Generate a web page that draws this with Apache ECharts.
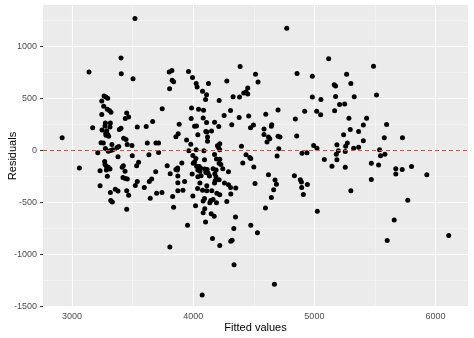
<!DOCTYPE html>
<html>
<head>
<meta charset="utf-8">
<script src="https://cdn.jsdelivr.net/npm/echarts@6/dist/echarts.min.js"></script>
<style>html,body{margin:0;padding:0;background:#fff}#c{width:474px;height:338px}</style>
</head>
<body>
<div id="c"></div>
<script>
const fitted = [3519,3140,3404,3406,3503,2918,3170,3264,3280,3294,3245,3261,3291,3308,3321,3245,3275,3272,3316,3313,3247,3286,3278,3294,3280,3302,3390,3404,3451,3439,3467,3426,3445,3455,3538,3494,3612,3665,3744,3621,3692,3714,3802,3824,3826,3838,3805,3884,3876,3857,3239,3258,3275,3299,3319,3335,3371,3385,3212,3379,3497,3634,3714,3060,3269,3272,3231,3283,3299,3313,3291,3423,3414,3437,3420,3439,3456,3231,3357,3379,3316,3319,3332,3451,3467,3451,3549,3533,3522,3596,3657,3637,3690,3645,3698,3742,3785,3810,3857,3869,3871,3873,3873,3873,3830,3838,3807,4772,4387,4514,4535,3961,3994,4024,4032,4126,4077,4110,4102,4277,4329,4382,4417,4436,4450,4450,4214,3986,4044,4085,3983,4082,4110,4011,4027,4038,4104,4112,4151,4118,4176,4211,4255,4308,4318,4379,4458,4473,4497,4599,4584,4584,4621,4632,4609,4645,4648,4700,4700,4716,4706,4692,4843,4857,4854,4920,4983,4983,5019,4994,5021,4898,4939,3945,3980,3964,4024,4088,3997,4022,4093,4200,4219,4209,4219,4176,4219,4398,4436,4467,4475,3906,3929,3915,3953,3991,4000,4011,4019,4036,4027,4049,4060,4038,4055,4038,4065,4055,4077,4082,4082,4093,4095,4102,4074,4095,4104,4115,4112,4123,4134,4137,4145,4148,4159,4164,4176,4181,4173,4192,4195,4219,4219,4214,4178,4187,4192,4214,4228,4244,4258,4277,4291,4308,4310,4310,4321,4335,4337,4349,4351,4409,4500,4510,4475,4530,4596,4621,4645,4664,4675,4687,4670,4835,4884,4893,4942,4895,4909,5024,5118,5488,5266,5164,5175,5301,5054,5175,5329,5513,5208,5250,5052,5167,5285,5431,5404,5596,5296,5241,5365,5404,5577,5727,5186,5258,5272,5324,5365,5198,5181,5255,5082,5186,5538,5546,5582,5145,5255,5301,5470,5470,5530,5672,5672,5725,5802,5928,5771,5659,5601,6109,3329,4118,4164,4189,4112,4153,3997,4291,3283,3538];
const residuals = [1270,757,890,738,692,123,220,524,515,502,476,427,398,385,369,347,265,236,265,226,197,191,165,155,146,136,201,214,362,308,323,119,107,58,226,49,230,279,401,71,71,71,757,770,677,663,595,252,162,133,75,71,19,-7,0,7,29,39,-22,-61,-51,-42,-19,-168,-107,-136,-194,-188,-162,-178,-249,-146,-162,-201,-259,-269,-275,-340,-372,-391,-405,-482,-495,-388,-430,-566,-113,-146,-337,-356,-275,-298,-204,-460,-411,-405,-146,-223,-184,-187,-168,-246,-311,-388,-444,-547,-929,1178,809,735,660,760,702,644,612,644,570,537,492,670,518,515,553,563,602,544,482,408,398,388,308,314,269,233,236,152,184,178,187,129,272,230,337,385,249,317,333,220,246,350,207,155,129,114,81,233,249,391,136,129,16,-52,304,741,139,379,716,515,379,49,22,-26,-22,100,61,-3,7,-3,-49,-78,-90,46,65,29,7,-39,-84,42,-42,-68,-78,-120,-298,-382,-719,-227,-123,-110,-531,-366,-152,-155,-168,-187,-201,-252,-243,-314,-382,-486,-599,-463,-560,-689,-1391,-178,-211,-184,-340,-220,-246,-502,-482,-609,-848,-473,-314,-291,-634,-502,-411,-427,-916,-282,-223,-252,-81,-123,-136,-175,-314,-492,-204,-356,-420,-874,-864,-751,-1100,-641,-362,-120,-158,-317,-719,-793,-553,-233,-453,-379,-285,-324,-1288,-243,-282,-304,-327,-356,-424,-586,884,812,735,634,621,644,492,521,518,534,444,447,343,382,311,311,246,250,201,152,182,94,123,123,55,42,71,22,32,-3,-36,-10,-87,-90,7,-51,-36,-152,-162,-388,-123,-279,-139,-175,-227,-184,-155,-233,-479,-670,-867,-819,58,90,-175,-188,-388,-388,-437,-330,-152,-298];
const xTicks = [3000, 4000, 5000, 6000];
const xMinor = [3500, 4500, 5500];
const yTicks = [-1500, -1000, -500, 0, 500, 1000];
const yMinor = [-1250, -750, -250, 250, 750, 1250];
const refLine = 0;

const pts = fitted.map((x, i) => [x, residuals[i]]);
const font = '"Liberation Sans", Arial, sans-serif';
const gridLines = [];
xMinor.forEach(v => gridLines.push({xAxis: v, lineStyle: {color: '#F7F7F7', width: 0.6, type: 'solid'}}));
yMinor.forEach(v => gridLines.push({yAxis: v, lineStyle: {color: '#F7F7F7', width: 0.6, type: 'solid'}}));
xTicks.forEach(v => gridLines.push({xAxis: v, lineStyle: {color: '#ffffff', width: 1.1, type: 'solid'}}));
yTicks.forEach(v => gridLines.push({yAxis: v, lineStyle: {color: '#ffffff', width: 1.1, type: 'solid'}}));

const chart = echarts.init(document.getElementById('c'), null, {renderer: 'canvas'});
chart.setOption({
  animation: false,
  backgroundColor: '#ffffff',
  grid: {left: 43, right: 6, top: 5, bottom: 31, show: true, backgroundColor: '#EBEBEB', borderWidth: 0,
         containLabel: false, outerBoundsMode: 'none'},
  xAxis: {
    type: 'value', min: 2760, max: 6268,
    name: 'Fitted values', nameLocation: 'middle', nameGap: 15, nameMoveOverlap: false,
    nameTextStyle: {fontFamily: font, fontSize: 11, color: '#000', verticalAlign: 'top'},
    axisLine: {show: false},
    axisTick: {show: true, length: 3, lineStyle: {color: '#333333'}, customValues: xTicks},
    axisLabel: {fontFamily: font, fontSize: 9, color: '#4D4D4D', margin: 5, customValues: xTicks,
                formatter: v => String(v)},
    splitLine: {show: false}
  },
  yAxis: {
    type: 'value', min: -1507, max: 1401,
    name: 'Residuals', nameLocation: 'middle', nameGap: 25, nameMoveOverlap: false,
    nameTextStyle: {fontFamily: font, fontSize: 11, color: '#000'},
    axisLine: {show: false},
    axisTick: {show: true, length: 3, lineStyle: {color: '#333333'}, customValues: yTicks},
    axisLabel: {fontFamily: font, fontSize: 9, color: '#4D4D4D', margin: 6, customValues: yTicks,
                formatter: v => String(v)},
    splitLine: {show: false}
  },
  series: [
    {
      type: 'line', data: [], z: 1, silent: true,
      markLine: {z: 1, silent: true, symbol: 'none', label: {show: false}, animation: false, data: gridLines}
    },
    {
      type: 'scatter', data: pts, z: 10, symbol: 'circle', symbolSize: 5,
      itemStyle: {color: '#000000', opacity: 1}, silent: true
    },
    {
      type: 'line', data: [], z: 11, silent: true,
      markLine: {z: 11, silent: true, symbol: 'none', label: {show: false}, animation: false,
        data: [{yAxis: refLine, lineStyle: {color: '#E8483F', width: 1, type: [4, 3]}}]}
    }
  ]
});
</script>
</body>
</html>
